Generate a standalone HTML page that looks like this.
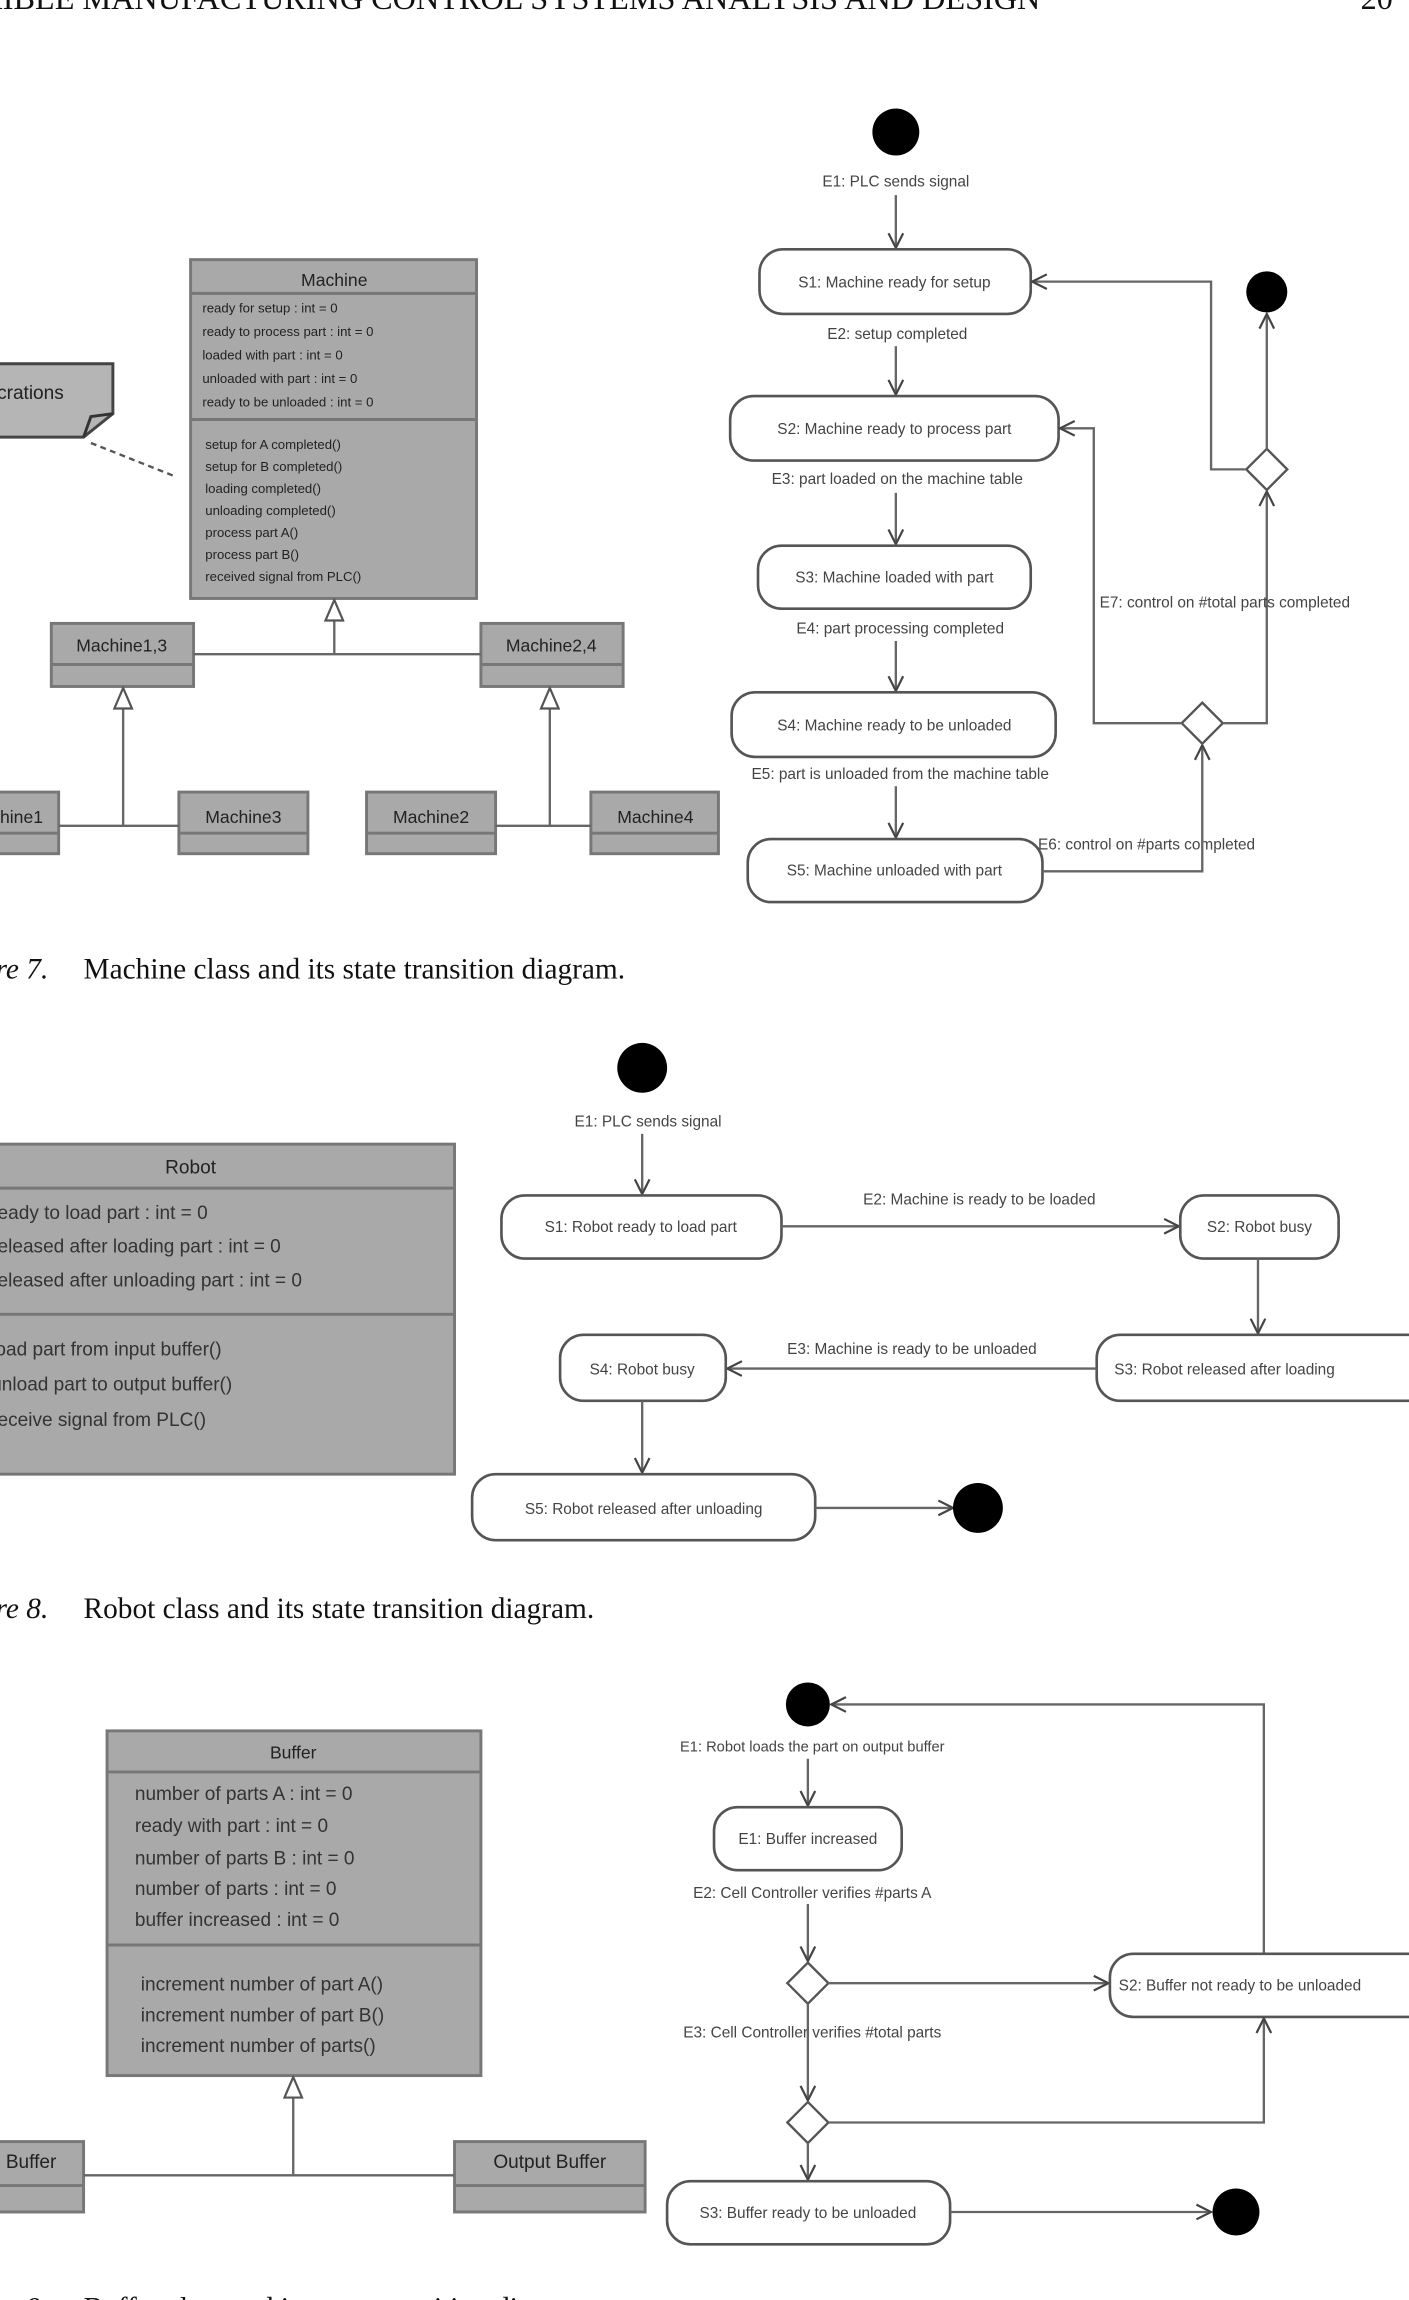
<!DOCTYPE html>
<html><head><meta charset="utf-8"><style>
html,body{margin:0;padding:0;background:#fff;}
svg{display:block;}
text{font-family:"Liberation Sans",sans-serif;}
.cap{font-family:"Liberation Serif",serif;font-size:20px;fill:#111;}
.lb{font-size:10.5px;fill:#444;}
.st{font-size:10.5px;fill:#444;text-anchor:middle;}
.cl{font-size:10px;fill:#222;}
.ln{stroke:#666;stroke-width:1.6;fill:none;}
.sb{fill:#fff;stroke:#555;stroke-width:1.8;}
.cb{fill:#a9a9a9;stroke:#777;stroke-width:2;}
</style></head><body>
<svg width="1409" height="2300" viewBox="0 0 961 1568" preserveAspectRatio="none" xmlns="http://www.w3.org/2000/svg">
<defs>
<marker id="a" viewBox="0 0 12 12" refX="11" refY="6" markerWidth="12" markerHeight="12" markerUnits="userSpaceOnUse" orient="auto"><path d="M1,1 L11,6 L1,11" fill="none" stroke="#444" stroke-width="1.5"/></marker>
<marker id="t" viewBox="0 0 14 16" refX="7" refY="1" markerWidth="14" markerHeight="16" markerUnits="userSpaceOnUse" orient="0"><path d="M7,1 L13,15 L1,15 Z" fill="#fff" stroke="#555" stroke-width="1.5"/></marker>
</defs>
<rect width="961" height="1568" fill="#fff"/>
<text x="-14" y="6" class="cap" style="font-size:22px">XIBLE MANUFACTURING CONTROL SYSTEMS ANALYSIS AND DESIGN</text>
<text x="928" y="6" class="cap" style="font-size:22px">20</text>

<!-- FIG 7 class -->
<rect x="130" y="177" width="195" height="231" class="cb"/>
<line x1="130" y1="200" x2="325" y2="200" stroke="#777" stroke-width="2"/>
<line x1="130" y1="286" x2="325" y2="286" stroke="#777" stroke-width="2"/>
<text x="228" y="195" class="cl" text-anchor="middle" style="font-size:12px">Machine</text>
<g class="cl" style="font-size:9px">
<text x="138" y="213">ready for setup : int = 0</text>
<text x="138" y="229">ready to process part : int = 0</text>
<text x="138" y="245">loaded with part : int = 0</text>
<text x="138" y="261">unloaded with part : int = 0</text>
<text x="138" y="277">ready to be unloaded : int = 0</text>
<text x="140" y="306">setup for A completed()</text>
<text x="140" y="321">setup for B completed()</text>
<text x="140" y="336">loading completed()</text>
<text x="140" y="351">unloading completed()</text>
<text x="140" y="366">process part A()</text>
<text x="140" y="381">process part B()</text>
<text x="140" y="396">received signal from PLC()</text>
</g>
<path d="M-5,248 L77,248 L77,282 L57,298 L-5,298 Z" fill="#b5b5b5" stroke="#444" stroke-width="2"/>
<path d="M57,298 L62,284 L77,282" fill="none" stroke="#333" stroke-width="2"/>
<text x="-2" y="272" class="cl" style="font-size:13px">crations</text>
<line x1="62" y1="302" x2="120" y2="325" stroke="#555" stroke-width="1.6" stroke-dasharray="4,3"/>

<rect x="35" y="425" width="97" height="43" class="cb"/><line x1="35" y1="453" x2="132" y2="453" stroke="#777" stroke-width="2"/>
<text x="83" y="444" class="cl" text-anchor="middle" style="font-size:12px">Machine1,3</text>
<rect x="328" y="425" width="97" height="43" class="cb"/><line x1="328" y1="453" x2="425" y2="453" stroke="#777" stroke-width="2"/>
<text x="376" y="444" class="cl" text-anchor="middle" style="font-size:12px">Machine2,4</text>
<path d="M132,446 L328,446 M228,446 L228,409" class="ln" marker-end="url(#t)"/>
<rect x="-5" y="540" width="45" height="42" class="cb"/><line x1="-5" y1="568" x2="40" y2="568" stroke="#777" stroke-width="2"/>
<text x="0" y="561" class="cl" style="font-size:12px">hine1</text>
<rect x="122" y="540" width="88" height="42" class="cb"/><line x1="122" y1="568" x2="210" y2="568" stroke="#777" stroke-width="2"/>
<text x="166" y="561" class="cl" text-anchor="middle" style="font-size:12px">Machine3</text>
<rect x="250" y="540" width="88" height="42" class="cb"/><line x1="250" y1="568" x2="338" y2="568" stroke="#777" stroke-width="2"/>
<text x="294" y="561" class="cl" text-anchor="middle" style="font-size:12px">Machine2</text>
<rect x="403" y="540" width="87" height="42" class="cb"/><line x1="403" y1="568" x2="490" y2="568" stroke="#777" stroke-width="2"/>
<text x="447" y="561" class="cl" text-anchor="middle" style="font-size:12px">Machine4</text>
<path d="M40,563 L122,563 M84,563 L84,469" class="ln" marker-end="url(#t)"/>
<path d="M338,563 L403,563 M375,563 L375,469" class="ln" marker-end="url(#t)"/>

<!-- FIG 7 state -->
<circle cx="611" cy="90" r="16" fill="#000"/>
<text x="611" y="127" class="st">E1: PLC sends signal</text>
<path d="M611,133 L611,169" class="ln" marker-end="url(#a)"/>
<rect x="518" y="170" width="185" height="44" rx="16" class="sb"/><text x="610" y="196" class="st">S1: Machine ready for setup</text>
<text x="612" y="231" class="st">E2: setup completed</text>
<path d="M611,236 L611,269" class="ln" marker-end="url(#a)"/>
<rect x="498" y="270" width="224" height="44" rx="16" class="sb"/><text x="610" y="296" class="st">S2: Machine ready to process part</text>
<text x="612" y="330" class="st">E3: part loaded on the machine table</text>
<path d="M611,336 L611,371" class="ln" marker-end="url(#a)"/>
<rect x="517" y="372" width="186" height="43" rx="16" class="sb"/><text x="610" y="397" class="st">S3: Machine loaded with part</text>
<text x="614" y="432" class="st">E4: part processing completed</text>
<path d="M611,437 L611,471" class="ln" marker-end="url(#a)"/>
<rect x="499" y="472" width="221" height="44" rx="16" class="sb"/><text x="610" y="498" class="st">S4: Machine ready to be unloaded</text>
<text x="614" y="531" class="st">E5: part is unloaded from the machine table</text>
<path d="M611,536 L611,571" class="ln" marker-end="url(#a)"/>
<rect x="510" y="572" width="201" height="43" rx="16" class="sb"/><text x="610" y="597" class="st">S5: Machine unloaded with part</text>
<text x="708" y="579" class="lb">E6: control on #parts completed</text>
<path d="M711,594 L820,594 L820,508" class="ln" marker-end="url(#a)"/>
<path d="M820,479 L834,493 L820,507 L806,493 Z" fill="#fff" stroke="#555" stroke-width="1.6"/>
<path d="M806,493 L746,493 L746,292 L723,292" class="ln" marker-end="url(#a)"/>
<path d="M834,493 L864,493 L864,335" class="ln" marker-end="url(#a)"/>
<path d="M864,306 L878,320 L864,334 L850,320 Z" fill="#fff" stroke="#555" stroke-width="1.6"/>
<path d="M850,320 L826,320 L826,192 L704,192" class="ln" marker-end="url(#a)"/>
<path d="M864,306 L864,214" class="ln" marker-end="url(#a)"/>
<circle cx="864" cy="199" r="14" fill="#000"/>
<text x="750" y="414" class="lb">E7: control on #total parts completed</text>

<text x="-3" y="667" class="cap" font-style="italic">re 7.</text><text x="57" y="667" class="cap">Machine class and its state transition diagram.</text>

<!-- FIG 8 -->
<rect x="-10" y="780" width="320" height="225" class="cb"/>
<line x1="-10" y1="810" x2="310" y2="810" stroke="#777" stroke-width="2"/>
<line x1="-10" y1="896" x2="310" y2="896" stroke="#777" stroke-width="2"/>
<text x="130" y="800" class="cl" text-anchor="middle" style="font-size:13px">Robot</text>
<g class="cl" style="font-size:13px;fill:#333">
<text x="-6" y="831">ready to load part : int = 0</text>
<text x="-6" y="854">released after loading part : int = 0</text>
<text x="-6" y="877">released after unloading part : int = 0</text>
<text x="-6" y="924">load part from input buffer()</text>
<text x="-6" y="948">unload part to output buffer()</text>
<text x="-6" y="972">receive signal from PLC()</text>
</g>
<circle cx="438" cy="728" r="17" fill="#000"/>
<text x="442" y="768" class="st">E1: PLC sends signal</text>
<path d="M438,773 L438,814" class="ln" marker-end="url(#a)"/>
<rect x="342" y="815" width="191" height="43" rx="16" class="sb"/><text x="437" y="840" class="st">S1: Robot ready to load part</text>
<text x="668" y="821" class="st">E2: Machine is ready to be loaded</text>
<path d="M533,836 L804,836" class="ln" marker-end="url(#a)"/>
<rect x="805" y="815" width="108" height="43" rx="16" class="sb"/><text x="859" y="840" class="st">S2: Robot busy</text>
<path d="M858,858 L858,909" class="ln" marker-end="url(#a)"/>
<rect x="748" y="910" width="230" height="45" rx="16" class="sb"/><text x="760" y="937" class="lb">S3: Robot released after loading</text>
<text x="622" y="923" class="st">E3: Machine is ready to be unloaded</text>
<path d="M748,933 L496,933" class="ln" marker-end="url(#a)"/>
<rect x="382" y="910" width="113" height="45" rx="16" class="sb"/><text x="438" y="937" class="st">S4: Robot busy</text>
<path d="M438,955 L438,1004" class="ln" marker-end="url(#a)"/>
<rect x="322" y="1005" width="234" height="45" rx="16" class="sb"/><text x="439" y="1032" class="st">S5: Robot released after unloading</text>
<path d="M556,1028 L650,1028" class="ln" marker-end="url(#a)"/>
<circle cx="667" cy="1028" r="17" fill="#000"/>

<text x="-3" y="1103" class="cap" font-style="italic">re 8.</text><text x="57" y="1103" class="cap">Robot class and its state transition diagram.</text>

<!-- FIG 9 -->
<rect x="73" y="1180" width="255" height="235" class="cb"/>
<line x1="73" y1="1208" x2="328" y2="1208" stroke="#777" stroke-width="2"/>
<line x1="73" y1="1326" x2="328" y2="1326" stroke="#777" stroke-width="2"/>
<text x="200" y="1199" class="cl" text-anchor="middle" style="font-size:12px">Buffer</text>
<g class="cl" style="font-size:13px;fill:#333">
<text x="92" y="1227">number of parts A : int = 0</text>
<text x="92" y="1249">ready with part : int = 0</text>
<text x="92" y="1271">number of parts B : int = 0</text>
<text x="92" y="1292">number of parts : int = 0</text>
<text x="92" y="1313">buffer increased : int = 0</text>
<text x="96" y="1357">increment number of part A()</text>
<text x="96" y="1378">increment number of part B()</text>
<text x="96" y="1399">increment number of parts()</text>
</g>
<rect x="-10" y="1460" width="67" height="48" class="cb"/><line x1="-10" y1="1490" x2="57" y2="1490" stroke="#777" stroke-width="2"/>
<text x="4" y="1478" class="cl" style="font-size:13px">Buffer</text>
<rect x="310" y="1460" width="130" height="48" class="cb"/><line x1="310" y1="1490" x2="440" y2="1490" stroke="#777" stroke-width="2"/>
<text x="375" y="1478" class="cl" text-anchor="middle" style="font-size:13px">Output Buffer</text>
<path d="M57,1483 L310,1483 M200,1483 L200,1416" class="ln" marker-end="url(#t)"/>
<circle cx="551" cy="1162" r="15" fill="#000"/>
<path d="M862,1332 L862,1162 L567,1162" class="ln" marker-end="url(#a)"/>
<text x="554" y="1194" class="st" style="font-size:10px">E1: Robot loads the part on output buffer</text>
<path d="M551,1199 L551,1231" class="ln" marker-end="url(#a)"/>
<rect x="487" y="1232" width="128" height="43" rx="16" class="sb"/><text x="551" y="1257" class="st">E1: Buffer increased</text>
<text x="554" y="1294" class="st">E2: Cell Controller verifies #parts A</text>
<path d="M551,1298 L551,1337" class="ln" marker-end="url(#a)"/>
<path d="M551,1338 L565,1352 L551,1366 L537,1352 Z" fill="#fff" stroke="#555" stroke-width="1.6"/>
<path d="M565,1352 L756,1352" class="ln" marker-end="url(#a)"/>
<rect x="757" y="1332" width="220" height="43" rx="16" class="sb"/><text x="763" y="1357" class="lb">S2: Buffer not ready to be unloaded</text>
<text x="554" y="1389" class="st">E3: Cell Controller verifies #total parts</text>
<path d="M551,1366 L551,1432" class="ln" marker-end="url(#a)"/>
<path d="M551,1433 L565,1447 L551,1461 L537,1447 Z" fill="#fff" stroke="#555" stroke-width="1.6"/>
<path d="M565,1447 L862,1447 L862,1376" class="ln" marker-end="url(#a)"/>
<path d="M551,1461 L551,1486" class="ln" marker-end="url(#a)"/>
<rect x="455" y="1487" width="193" height="43" rx="16" class="sb"/><text x="551" y="1512" class="st">S3: Buffer ready to be unloaded</text>
<path d="M648,1508 L826,1508" class="ln" marker-end="url(#a)"/>
<circle cx="843" cy="1508" r="16" fill="#000"/>

<text x="-3" y="1580" class="cap" font-style="italic">re 9.</text><text x="57" y="1580" class="cap">Buffer class and its state transition diagram.</text>
</svg>
</body></html>
